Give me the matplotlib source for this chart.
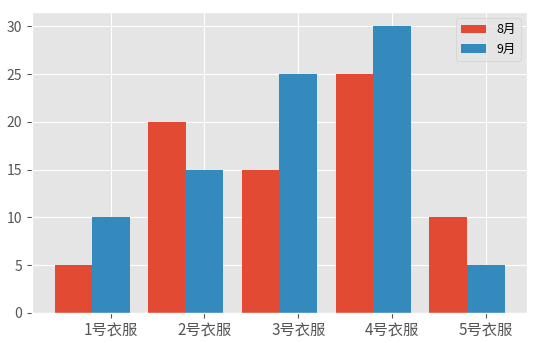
import numpy as np
import matplotlib
matplotlib.use("Agg")
import matplotlib.pyplot as plt

plt.style.use("ggplot")
plt.rcParams['font.family'] = ['Noto Sans CJK SC', 'DejaVu Sans']
plt.rcParams['axes.unicode_minus'] = False

labels = ["1号衣服", "2号衣服", "3号衣服", "4号衣服", "5号衣服"]
aug = [5, 20, 15, 25, 10]
sep = [10, 15, 25, 30, 5]
width = 0.4

x = np.arange(len(labels))

fig = plt.figure(figsize=(5.38, 3.43), dpi=100)
ax = fig.add_subplot(111)
fig.subplots_adjust(left=32/538, right=527/538, top=1-12/343, bottom=1-313/343)

ax.bar(x, aug, width=width, label="8月")
ax.bar(x + width, sep, width=width, label="9月")
ax.set_xticks(x + width)
ax.set_xticklabels(labels, fontsize=11)
ax.tick_params(axis='y', labelsize=10)
ax.legend(loc="upper right", fontsize=9)

fig.savefig("out.png", dpi=100)
